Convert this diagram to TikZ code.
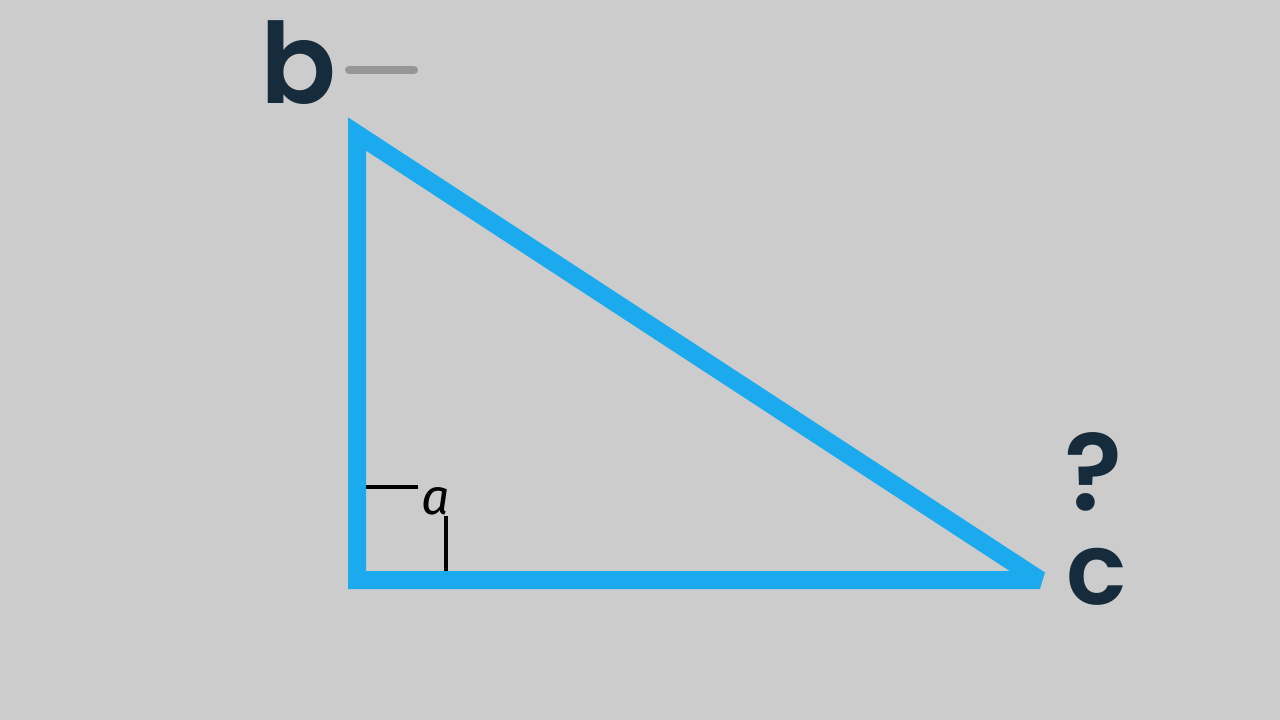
\documentclass[tikz,border=0pt]{standalone}
\usepackage{fontspec}
\newfontfamily\pop[BoldFont={* SemiBold}]{Poppins}
\newfontfamily\fira{Fira Sans}
\definecolor{bg}{RGB}{204,204,204}
\definecolor{tri}{RGB}{27,170,238}
\definecolor{ink}{RGB}{22,44,60}
\definecolor{dashg}{RGB}{150,150,150}
\tikzset{
  lbl/.style={text=ink,font=\pop\bfseries\fontsize{112}{112}\selectfont,inner sep=0pt},
}
\begin{document}
\begin{tikzpicture}[x=1pt,y=-1pt]
\fill[bg] (0,0) rectangle (1280,720);
\useasboundingbox (0,0) rectangle (1280,720);
\coordinate (A) at (357,134);
\coordinate (B) at (357,580);
\coordinate (C) at (1040,580);
\draw[tri,line width=18pt,line join=miter,miter limit=2.5] (A) -- (B) -- (C) -- cycle;
% right angle marker
\coordinate (m1) at (366,487);
\coordinate (m2) at (418,487);
\coordinate (m3) at (446,516);
\coordinate (m4) at (446,571);
\draw[black,line width=3.5pt] (m1) -- (m2);
\draw[black,line width=3.5pt] (m3) -- (m4);
\node[inner sep=0pt,text=black,font=\fira\itshape\fontsize{50}{50}\selectfont,anchor=base] (a) at (436,514) {a};
% labels
\node[lbl,anchor=base west] (b) at (260,103) {b};
\coordinate (d1) at (349,70);
\coordinate (d2) at (414,70);
\draw[dashg,line width=8pt,line cap=round] (d1) -- (d2);
\node[lbl,anchor=base west,font=\pop\bfseries\fontsize{108}{108}\selectfont] (q) at (1064,510) {?};
\node[lbl,anchor=base west,font=\pop\bfseries\fontsize{100}{100}\selectfont] (c) at (1066,604) {c};
\end{tikzpicture}
\end{document}
